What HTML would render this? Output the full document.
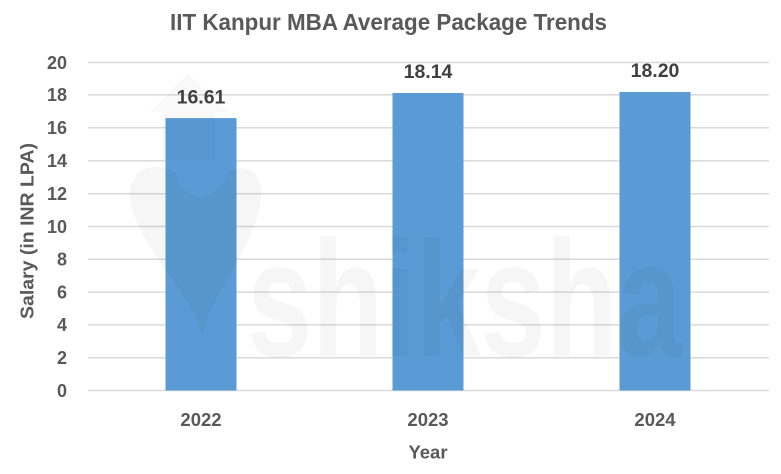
<!DOCTYPE html>
<html><head><meta charset="utf-8"><style>
html,body{margin:0;padding:0;background:#fff;}
svg{display:block;}
text{font-family:"Liberation Sans",sans-serif;font-weight:bold;}
</style></head><body>
<svg width="781" height="474" viewBox="0 0 781 474" xmlns="http://www.w3.org/2000/svg">
<rect width="781" height="474" fill="#fff"/>
<!-- gridlines -->
<g stroke="#d9d9d9" stroke-width="1.5">
<line x1="88" x2="769" y1="62.5" y2="62.5"/>
<line x1="88" x2="769" y1="94.9" y2="94.9"/>
<line x1="88" x2="769" y1="127.7" y2="127.7"/>
<line x1="88" x2="769" y1="160.9" y2="160.9"/>
<line x1="88" x2="769" y1="193.7" y2="193.7"/>
<line x1="88" x2="769" y1="226.5" y2="226.5"/>
<line x1="88" x2="769" y1="259.3" y2="259.3"/>
<line x1="88" x2="769" y1="292.1" y2="292.1"/>
<line x1="88" x2="769" y1="324.9" y2="324.9"/>
<line x1="88" x2="769" y1="357.7" y2="357.7"/>
<line x1="88" x2="769" y1="390.5" y2="390.5"/>
</g>
<!-- bars -->
<g fill="#5b9bd5">
<rect x="165.5" y="118.1" width="71" height="272.4"/>
<rect x="392.5" y="93" width="71" height="297.5"/>
<rect x="619.5" y="92" width="71" height="298.5"/>
</g>
<!-- watermark -->
<g fill="#000" fill-opacity="0.035">
<path d="M150,112 L188,73 L228,112 L215,112 L215,160 L163,160 L163,112 Z" fill-opacity="0.025"/>
<path d="M130,200 C128,170 150,160 175,172 C185,205 215,205 228,172 C252,160 266,180 260,205 C252,250 215,290 202,335 C190,290 140,250 130,200 Z"/>
<text x="247" y="356" font-size="165" textLength="435" lengthAdjust="spacingAndGlyphs">shiksha</text>
</g>
<!-- y tick labels -->
<g fill="#595959" font-size="18" text-anchor="end">
<text x="67" y="68.8">20</text>
<text x="67" y="101.2">18</text>
<text x="67" y="134">16</text>
<text x="67" y="167.2">14</text>
<text x="67" y="200">12</text>
<text x="67" y="232.8">10</text>
<text x="67" y="265.6">8</text>
<text x="67" y="298.4">6</text>
<text x="67" y="331.2">4</text>
<text x="67" y="364">2</text>
<text x="67" y="396.8">0</text>
</g>
<!-- data labels -->
<g fill="#404040" font-size="19.5" text-anchor="middle">
<text x="201" y="103.3">16.61</text>
<text x="428" y="78">18.14</text>
<text x="655" y="76.8">18.20</text>
</g>
<!-- x labels -->
<g fill="#595959" font-size="18.5" text-anchor="middle">
<text x="201" y="426">2022</text>
<text x="428" y="426">2023</text>
<text x="655" y="426">2024</text>
<text x="428" y="458.3">Year</text>
</g>
<!-- title -->
<text x="388.5" y="30" fill="#595959" font-size="23" text-anchor="middle" textLength="437" lengthAdjust="spacingAndGlyphs">IIT Kanpur MBA Average Package Trends</text>
<!-- y title -->
<text transform="translate(33.5,231) rotate(-90)" fill="#595959" font-size="18" text-anchor="middle" textLength="176" lengthAdjust="spacingAndGlyphs">Salary (in INR LPA)</text>
</svg>
</body></html>
